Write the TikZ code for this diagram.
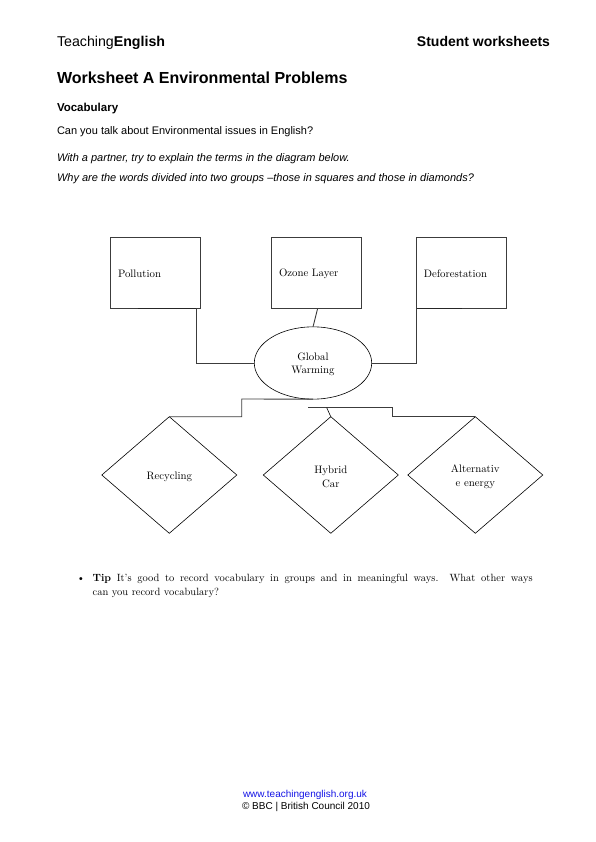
\documentclass[tikz,border=0pt]{standalone}
\usepackage{fontspec}
\newfontfamily\arial{Liberation Sans}
\usetikzlibrary{shapes.geometric}
\definecolor{linkblue}{RGB}{20,20,230}
\definecolor{linegray}{RGB}{60,60,60}
\begin{document}
\begin{tikzpicture}[x=1pt,y=-1pt,
  every node/.style={inner sep=0pt, outer sep=0pt},
  sanstext/.style={anchor=base west, font=\arial\fontsize{11}{13}\selectfont},
  boxnode/.style={draw=linegray, line width=0.9pt, rectangle, minimum width=89.5pt, minimum height=71pt, text width=75pt, align=left, font=\fontsize{10.8}{12.5}\selectfont},
  ovalnode/.style={draw=black, line width=0.6pt, ellipse, minimum width=117.4pt, minimum height=72.3pt, align=center, font=\fontsize{10.8}{13}\selectfont},
  dianode/.style={draw=black, line width=0.6pt, diamond, minimum width=135pt, minimum height=116.6pt, align=center, font=\fontsize{10.8}{14}\selectfont},
  conn/.style={draw=linegray, line width=0.9pt},
  thickseg/.style={draw=black!85, line width=1.4pt}
]
\useasboundingbox (0,0) rectangle (595,842);
\fill[white] (0,0) rectangle (595,842);

% header
\node[sanstext, font=\arial\fontsize{14.2}{16}\selectfont] (hleft) at (57,47) {Teaching\textbf{English}};
\node[anchor=base east, font=\arial\bfseries\fontsize{14}{16}\selectfont] (hright) at (550,47) {Student worksheets};
\node[sanstext, font=\arial\bfseries\fontsize{16}{18}\selectfont] (title) at (57,84) {Worksheet A Environmental Problems};
\node[sanstext, font=\arial\bfseries\fontsize{11.5}{13}\selectfont] (vocab) at (57,112) {Vocabulary};
\node[sanstext] (q1) at (57,135) {Can you talk about Environmental issues in English?};
\node[sanstext, font=\arial\itshape\fontsize{11}{13}\selectfont] (q2) at (57,161.5) {With a partner, try to explain the terms in the diagram below.};
\node[sanstext, font=\arial\itshape\fontsize{11}{13}\selectfont] (q3) at (57,182) {Why are the words divided into two groups –those in squares and those in diamonds?};

% boxes
\node[boxnode] (poll) at (155.5,272.8) {\rule{0pt}{9pt}Pollution};
\node[boxnode] (oz) at (316.5,272.8) {\rule{0pt}{9pt}Ozone Layer};
\node[boxnode] (def) at (461.3,272.8) {\rule{0pt}{9pt}Deforestation};

% ellipse
\node[ovalnode] (gw) at (313,363) {\rule{0pt}{10pt}Global\\Warming};

% diamonds
\node[dianode] (rec) at (169.3,475) {\rule{0pt}{11pt}Recycling};
\node[dianode] (hyb) at (330.8,475) {\rule{0pt}{11pt}Hybrid\\Car};
\node[dianode] (alt) at (475.3,475) {\rule{0pt}{11pt}Alternativ\\e energy};

% thicker bottom segments
\draw[thickseg] ([xshift=-17.8pt]poll.south) -- ([xshift=41.2pt]poll.south);
\draw[thickseg] (def.south west) -- ([xshift=45.2pt]def.south west);

% connectors top
\draw[conn] ([xshift=41.2pt]poll.south) |- (gw.west);
\draw[conn] ([xshift=1.2pt]oz.south) -- (gw.north);
\draw[conn] (gw.east) -| (def.south west);

% connectors bottom
\coordinate (bendA) at (241.7,399);
\draw[conn] (gw.south) -- (bendA) |- (rec.north);
\coordinate (hstart) at (308.3,407.7);
\coordinate (hcurve) at (326.7,407.7);
\coordinate (bendB) at (392.3,407.7);
\draw[conn] (hstart) -- (bendB) |- (alt.north);
\draw[draw=black, line width=0.6pt] (hcurve) .. controls (328.5,412) .. (hyb.north);

% tip
\node[anchor=base, font=\fontsize{10.5}{12}\selectfont] (bul) at (81,581.7) {\textbullet};
\node[anchor=base west, font=\fontsize{10.5}{12}\selectfont] (tip1) at (92.7,581.7) {\makebox[440pt][s]{\textbf{Tip} It's good to record vocabulary in groups and in meaningful ways. What other ways}};
\node[anchor=base west, font=\fontsize{10.5}{12}\selectfont] (tip2) at (92.7,595) {can you record vocabulary?};

% footer
\node[anchor=base, font=\arial\fontsize{10}{11}\selectfont, text=linkblue] (url) at (305,797) {www.teachingenglish.org.uk};
\node[anchor=base, font=\arial\fontsize{10}{11}\selectfont] (copy) at (306,809) {\textcopyright{} BBC | British Council 2010};
\end{tikzpicture}
\end{document}
